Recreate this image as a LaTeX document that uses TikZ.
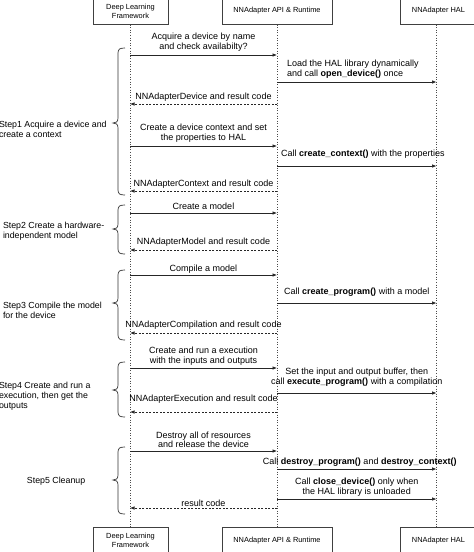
\documentclass[tikz,border=0pt]{standalone}
\usepackage{fontspec}
\setmainfont{Liberation Sans}
\usetikzlibrary{arrows.meta}
\begin{document}
\begin{tikzpicture}[x=1pt,y=-1pt,
  every node/.style={inner sep=0pt,outer sep=0pt},
  actor/.style={draw=black!75,line width=0.7pt,fill=white,font=\fontsize{7.4}{9}\selectfont,align=center,minimum width=75pt,minimum height=27pt},
  life/.style={draw=black!70,line width=0.6pt,dash pattern=on 1pt off 1.6pt},
  msg/.style={draw=black!85,line width=0.7pt,-{Latex[length=4.5pt,width=3.6pt]}},
  ret/.style={draw=black!85,line width=0.7pt,dash pattern=on 2pt off 1.5pt,-{Latex[length=4.5pt,width=3.6pt]}},
  lbl/.style={font=\fontsize{9}{9.8}\selectfont,align=center},
  lbll/.style={font=\fontsize{9}{9.8}\selectfont,align=left},
  steptxt/.style={font=\fontsize{8.8}{9.8}\selectfont,align=left,anchor=west},
  brace/.style={draw=black!80,line width=0.7pt}
]
\useasboundingbox (0,0) rectangle (474,552);
\begin{scope}
\clip (0,0) rectangle (474,552);
% actors top
\node[actor,minimum width=75pt] (dlfT) at (130.5,11) {Deep Learning\\Framework};
\node[actor,minimum width=110pt] (apiT) at (277,11) {NNAdapter API \& Runtime};
\node[actor,minimum width=77pt] (halT) at (438.5,11) {NNAdapter HAL};
% actors bottom
\node[actor,minimum width=75pt] (dlfB) at (130.5,540.5) {Deep Learning\\Framework};
\node[actor,minimum width=110pt] (apiB) at (277,540.5) {NNAdapter API \& Runtime};
\node[actor,minimum width=77pt] (halB) at (438.5,540.5) {NNAdapter HAL};
\end{scope}
% lifelines
\draw[life] (dlfT.south -| 130,0) -- (dlfB.north -| 130,0);
\draw[life] (apiT.south -| 277,0) -- (apiB.north -| 277,0);
\draw[life] (halT.south -| 436.5,0) -- (halB.north -| 436.5,0);
% coordinates along lifelines
\foreach \y in {55,104,146,191,213,250,275,333,368,412,451,508}{
  \coordinate (d\y) at (130,\y);
  \coordinate (a\y) at (277,\y);
}
\foreach \y in {82,166,303,393,469,499}{
  \coordinate (a\y) at (277,\y);
  \coordinate (h\y) at (436.5,\y);
}
% messages
\draw[msg] (d55) -- node[lbl,above=4pt] {Acquire a device by name\\and check availabilty?} (a55);
\draw[msg] (a82) -- (h82);
\node[lbll,anchor=south west] (t82) at (287,78.5) {Load the HAL library dynamically\\and call \textbf{open\_device()} once};
\draw[ret] (a104) -- node[lbl,above=2.5pt] {NNAdapterDevice and result code} (d104);
\draw[msg] (d146) -- node[lbl,above=3.5pt] {Create a device context and set\\the properties to HAL} (a146);
\draw[msg] (a166) -- (h166);
\node[lbll,anchor=west] (t166) at (281,154) {Call \textbf{create\_context()} with the properties};
\draw[ret] (a191) -- node[lbl,above=3pt] {NNAdapterContext and result code} (d191);
\draw[msg] (d213) -- node[lbl,above=3pt] {Create a model} (a213);
\draw[ret] (a250) -- node[lbl,above=4pt] {NNAdapterModel and result code} (d250);
\draw[msg] (d275) -- node[lbl,above=2pt] {Compile a model} (a275);
\draw[msg] (a303) -- node[lbl,above=7pt] {Call \textbf{create\_program()} with a model} (h303);
\draw[ret] (a333) -- node[lbl,above=4pt] {NNAdapterCompilation and result code} (d333);
\draw[msg] (d368) -- node[lbl,above=2.5pt] {Create and run a execution\\with the inputs and outputs} (a368);
\draw[msg] (a393) -- node[lbl,above=7pt] {Set the input and output buffer, then\\call \textbf{execute\_program()} with a compilation} (h393);
\draw[ret] (a412) -- node[lbl,above=9pt] {NNAdapterExecution and result code} (d412);
\draw[msg] (d451) -- node[lbl,above=3pt] {Destroy all of resources\\and release the device} (a451);
\draw[msg] (a469) -- node[lbl,above=3pt,xshift=3pt] {Call \textbf{destroy\_program()} and \textbf{destroy\_context()}} (h469);
\draw[msg] (a499) -- node[lbl,above=2.5pt] {Call \textbf{close\_device()} only when\\the HAL library is unloaded} (h499);
\draw[ret] (a508) -- node[lbl,above=1.5pt] {result code} (d508);
% braces
\foreach \t/\m/\b in {48/123/195, 205/229/254, 270/303/340, 362/390/417, 447/480/514}{
  \draw[brace] (125,\t) .. controls (120,\t) and (118,\t+1) .. (118,\t+5)
     -- (118,\m-5) .. controls (118,\m-1) and (116,\m) .. (113,\m)
     .. controls (116,\m) and (118,\m+1) .. (118,\m+5)
     -- (118,\b-5) .. controls (118,\b-1) and (120,\b) .. (125,\b);
}
% step labels
\node[steptxt] (s1) at (-1,129) {Step1 Acquire a device and\\create a context};
\node[steptxt] (s2) at (3,231) {Step2 Create a hardware-\\independent model};
\node[steptxt] (s3) at (3,310) {Step3 Compile the model\\for the device};
\node[steptxt] (s4) at (-1,396.5) {Step4 Create and run a\\execution, then get the\\outputs};
\node[steptxt] (s5) at (27,481) {Step5 Cleanup};
\end{tikzpicture}
\end{document}
